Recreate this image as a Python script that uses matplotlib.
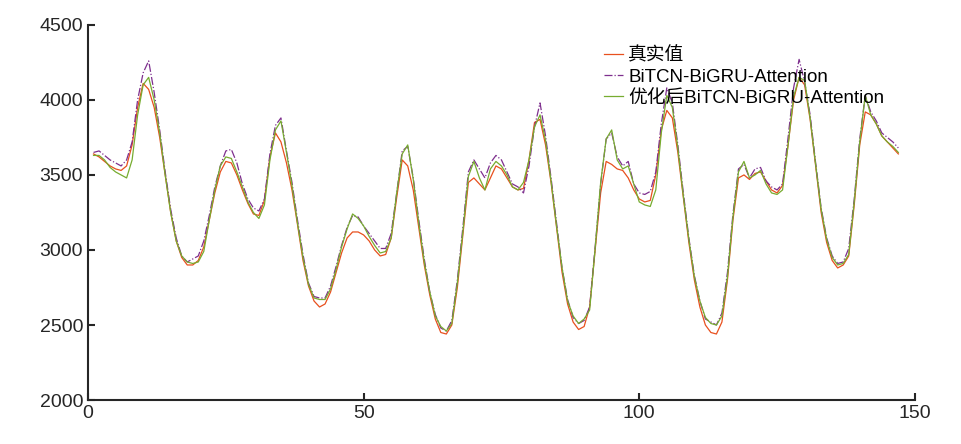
import matplotlib
matplotlib.use("Agg")
import matplotlib.pyplot as plt
import numpy as np

true_vals = [3640,3620,3590,3560,3540,3530,3560,3700,3950,4110,4070,3950,3750,3500,3250,3060,2950,2900,2900,2930,
 3020,3200,3380,3520,3590,3580,3500,3400,3310,3240,3230,3330,3620,3780,3720,3580,3400,3170,2930,2760,
 2660,2620,2640,2720,2850,2980,3080,3120,3120,3100,3060,3000,2960,2970,3080,3350,3600,3560,3400,3150,
 2900,2700,2540,2450,2440,2500,2750,3100,3450,3480,3440,3400,3480,3560,3540,3480,3420,3400,3410,3600,
 3850,3870,3700,3450,3150,2850,2640,2520,2470,2490,2620,3000,3380,3590,3570,3540,3530,3480,3400,3340,
 3320,3330,3500,3800,3930,3880,3650,3350,3050,2800,2620,2500,2450,2440,2520,2800,3200,3480,3500,3470,
 3510,3520,3460,3400,3380,3430,3700,4000,4150,4100,3870,3560,3250,3050,2930,2880,2900,2960,3300,3700,
 3920,3900,3840,3760,3720,3680,3640]
bitcn_vals = [3650,3660,3630,3600,3580,3560,3600,3720,4000,4180,4260,4050,3800,3520,3270,3080,2960,2920,2940,2960,
 3060,3230,3420,3560,3660,3670,3580,3440,3340,3280,3260,3340,3640,3830,3880,3660,3450,3200,2970,2780,
 2690,2680,2680,2760,2890,3030,3150,3230,3220,3160,3110,3060,3010,3010,3110,3380,3660,3690,3480,3200,
 2940,2720,2570,2480,2460,2530,2800,3150,3520,3600,3540,3480,3580,3630,3600,3520,3440,3420,3380,3560,
 3820,3980,3760,3480,3180,2880,2670,2550,2510,2530,2620,3020,3440,3740,3780,3620,3560,3590,3440,3380,
 3370,3390,3520,3840,4080,3980,3700,3380,3080,2830,2660,2540,2520,2500,2580,2850,3240,3540,3570,3480,
 3540,3550,3460,3420,3400,3440,3750,4080,4270,4120,3900,3580,3280,3080,2960,2910,2920,3010,3340,3740,
 4030,3920,3860,3780,3750,3720,3680]
opt_vals = [3630,3630,3600,3550,3520,3500,3480,3600,3900,4100,4150,4000,3780,3500,3250,3060,2960,2920,2910,2920,
 2990,3200,3400,3560,3620,3610,3520,3420,3320,3250,3210,3300,3600,3800,3860,3650,3430,3180,2950,2770,
 2680,2670,2670,2740,2870,3020,3140,3240,3210,3160,3090,3030,2980,2990,3080,3380,3640,3700,3470,3180,
 2920,2720,2560,2490,2460,2510,2780,3120,3490,3590,3480,3400,3540,3590,3560,3500,3420,3400,3450,3600,
 3820,3900,3730,3460,3160,2880,2660,2560,2510,2540,2600,3010,3450,3740,3800,3600,3540,3560,3440,3320,
 3300,3290,3400,3780,4030,3950,3680,3360,3070,2820,2660,2550,2510,2500,2560,2820,3220,3520,3590,3480,
 3500,3530,3440,3380,3370,3400,3700,4020,4150,4130,3880,3570,3270,3070,2950,2900,2910,2970,3320,3720,
 4030,3900,3840,3760,3720,3690,3650]
x = np.arange(1, len(true_vals)+1)

plt.rcParams['font.family'] = ['Liberation Sans', 'Noto Sans CJK SC']
fig = plt.figure(figsize=(9.62, 4.44), dpi=100)
ax = fig.add_axes([0.0915, 0.099, 0.8595, 0.845])
ax.plot(x, true_vals, color='#E8501E', lw=0.9, label='真实值')
ax.plot(x, bitcn_vals, color='#7E2F8E', lw=0.9, ls='-.', label='BiTCN-BiGRU-Attention')
ax.plot(x, opt_vals, color='#77AC30', lw=0.9, label='优化后BiTCN-BiGRU-Attention')
ax.set_xlim(0, 150)
ax.set_ylim(2000, 4500)
ax.set_xticks([0, 50, 100, 150])
ax.set_yticks([2000, 2500, 3000, 3500, 4000, 4500])
ax.spines['top'].set_visible(False)
ax.spines['right'].set_visible(False)
for s in ['left', 'bottom']:
    ax.spines[s].set_linewidth(1.5)
    ax.spines[s].set_color('#262626')
ax.tick_params(direction='in', labelsize=14, width=1.5, length=5, colors='#262626')
ax.legend(loc='upper left', bbox_to_anchor=(0.615, 0.96), frameon=False, fontsize=13.5,
          handlelength=1.0, handletextpad=0.3, labelspacing=0.2, borderaxespad=0)
fig.savefig('out.png', dpi=100)
